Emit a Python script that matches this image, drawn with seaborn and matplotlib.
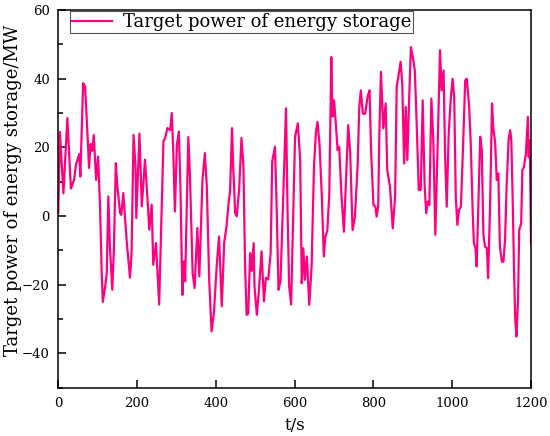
import seaborn as sns
import matplotlib.pyplot as plt
from matplotlib.ticker import MultipleLocator

# Potencia objetivo del almacenamiento
time_s = [0, 4, 13, 23, 32, 40, 45, 53, 56, 63,
          68, 74, 78, 82, 86, 90, 96, 101, 106, 110,
          113, 119, 123, 127, 131, 137, 141, 146, 150, 157,
          160, 165, 174, 182, 186, 191, 196, 198, 206, 212,
          220, 226, 231, 237, 241, 248, 256, 267, 271, 277,
          284, 288, 292, 296, 301, 306, 310, 315, 319, 322,
          330, 334, 341, 346, 353, 358, 366, 372, 377, 383,
          389, 395, 402, 408, 415, 421, 427, 433, 436, 441,
          444, 449, 453, 459, 465, 470, 474, 478, 482, 487,
          491, 496, 498, 504, 509, 516, 522, 527, 533, 539,
          543, 550, 554, 559, 564, 571, 578, 582, 586, 591,
          601, 608, 614, 618, 622, 626, 631, 637, 643, 649,
          654, 658, 663, 669, 674, 678, 683, 688, 693, 696,
          700, 705, 709, 713, 719, 725, 730, 736, 741, 747,
          753, 760, 764, 768, 773, 779, 785, 790, 794, 800,
          805, 808, 812, 815, 819, 825, 831, 835, 842, 849,
          855, 859, 865, 869, 873, 878, 882, 886, 890, 895,
          900, 905, 910, 915, 920, 925, 930, 934, 938, 942,
          947, 952, 957, 962, 969, 973, 978, 982, 986, 991,
          996, 1001, 1005, 1009, 1013, 1017, 1022, 1028, 1033, 1037,
          1043, 1047, 1052, 1055, 1059, 1062, 1067, 1071, 1075, 1079,
          1083, 1088, 1091, 1096, 1101, 1104, 1109, 1113, 1117, 1121,
          1126, 1130, 1134, 1138, 1143, 1147, 1150, 1154, 1157, 1160,
          1163, 1167, 1170, 1175, 1178, 1182, 1187, 1192, 1194, 1197,
          1200]

power_mw = [1, 24.5, 6.6, 28.5, 8, 10.5, 15, 18, 11.5, 38.7,
            37.7, 24, 14, 21, 19, 23.6, 10.5, 17.3, 2.8, -16,
            -25, -20.5, -16.6, 5.7, -8.9, -21.5, -10, 15.4, 8.6, 0.8,
            0.3, 6.7, -7.9, -18, -10.8, 23.6, 14.4, -0.6, 24, 2.8,
            16.4, 5.7, -4, 3.3, -14.2, -7.9, -25.8, 22, 22.6, 25.6,
            25, 30, 18.3, 1.3, 20.7, 24.6, 8.6, -23, -13.2, -19,
            23, 12.5, -16.6, -21, -3.5, -17.6, 10.5, 18.3, 8.6, -18.6,
            -33.6, -28.3, -14.7, -6, -26.3, -7.9, -3, 4.7, 7.2, 25.6,
            14.4, 0.8, -0.1, 7.6, 22.7, 14.4, -13.7, -28.8, -28.5, -10.8,
            -16, -7.9, -20.5, -28.8, -22, -10.3, -24.9, -18, -18.5, -10.8,
            15.9, 20.2, 3.7, -21.5, -19, 5.7, 31.4, 0.8, -20.5, -25.8,
            23, 27, 16.3, -19.6, -9.4, -18.6, -11.8, -25.9, -14.7, 14.3,
            24.5, 27.4, 21.1, 5.6, -11.8, -6, -4.1, 6.6, 46.3, 28.9,
            33.7, 26, 19.2, 20.2, 5.6, -4.6, 9.5, 26.5, 18.2, -4.1,
            -0.2, 15.3, 31.8, 36.6, 29.8, 29.8, 34.7, 36.6, 19.2, 3.2,
            2.7, -0.2, 2.7, 24, 42, 25.5, 32.8, 13.4, 8.5, -3.6,
            5.6, 37.6, 42, 44.9, 38.6, 15.3, 31.8, 16.3, 31.8, 49.2,
            46.3, 42.4, 26, 7.6, 7.6, 33.7, 8.5, 0.8, 4.2, 3.2,
            34.2, 22.1, -5.5, 16.3, 48.3, 36.6, 42.4, 17.2, 2.7, 24,
            33.7, 40, 34.7, 5.6, -2.6, 1.7, 2.7, 22.1, 39.5, 40,
            31.8, 21.1, 0.8, -7.9, -9.4, -14.7, 6.6, 23.1, 19.2, -5,
            -8.9, -9.4, -18.1, 2.7, 32.8, 26, 21.1, 10.5, 12.4, -8.9,
            -13.3, -13.3, -7, 8.5, 22.1, 25, 22.1, 1.7, -16.7, -30.2,
            -35.1, -24.4, -4.1, -2.1, 13.4, 14.3, 18.2, 28.9, 17.2, 22,
            -8]

x_ticks = [0, 200, 400, 600, 800, 1000, 1200]
y_ticks = [-40, -20, 0, 20, 40, 60]

plt.rcParams['font.family'] = ['DejaVu Serif']

fig = plt.figure(figsize=(5.5, 4.36), dpi=100)
ax = fig.add_axes([0.106, 0.111, 0.8595, 0.866])

sns.lineplot(x=time_s, y=power_mw, ax=ax, color="#FF0080", linewidth=1.6,
             estimator=None, label="Target power of energy storage")

ax.set_xlim(0, 1200)
ax.set_ylim(-50, 60)
ax.set_xticks(x_ticks)
ax.set_yticks(y_ticks)
ax.yaxis.set_minor_locator(MultipleLocator(10))
ax.tick_params(axis="both", which="major", direction="in", length=5.5, width=1.1,
               labelsize=9.5)
ax.tick_params(axis="x", pad=7)
ax.tick_params(axis="y", pad=6)
ax.tick_params(axis="y", which="minor", direction="in", length=3.6, width=1.1)
for s in ax.spines.values():
    s.set_linewidth(1.1)

ax.set_xlabel("t/s", fontsize=12)
ax.set_ylabel("Target power of energy storage/MW", fontsize=13)
ax.xaxis.set_label_coords(0.5, -0.078)
ax.yaxis.set_label_coords(-0.076, 0.523)

leg = ax.legend(loc="upper left", bbox_to_anchor=(0.0247, 0.997), borderaxespad=0,
                fancybox=False, edgecolor="#555555", framealpha=1, fontsize=13,
                handlelength=2.2, handletextpad=0.6, borderpad=0.12)
leg.get_frame().set_linewidth(0.8)

plt.savefig("out.png")
